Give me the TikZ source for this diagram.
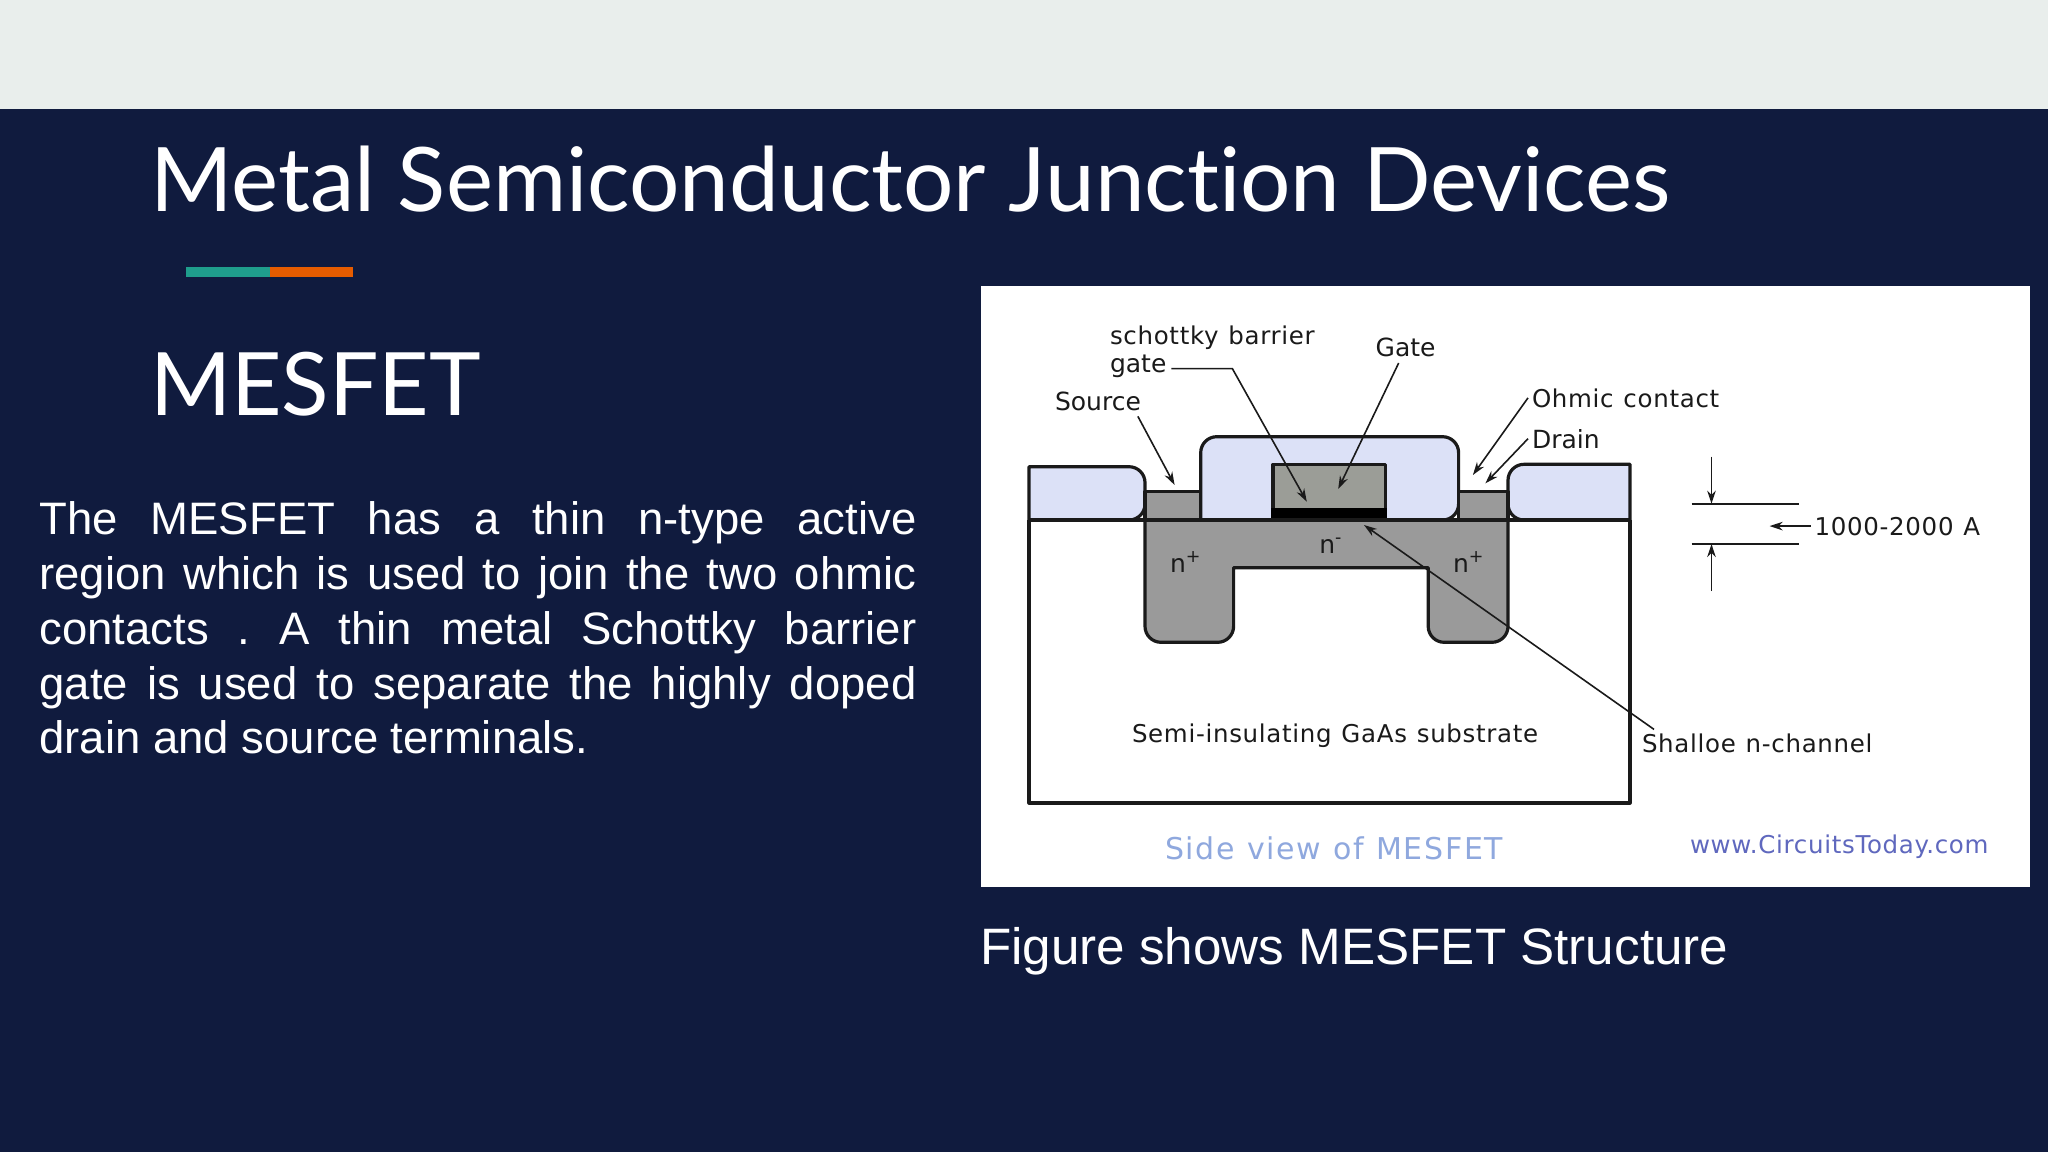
\documentclass[tikz,border=0pt]{standalone}
\usepackage{fontspec}
\setmainfont{Liberation Sans}
\newfontfamily\titlefont[Ligatures=NoCommon]{Lato}
\newfontfamily\labelfont{DejaVu Sans}
\newfontfamily\widefont[LetterSpace=2.8,WordSpace=1.15]{DejaVu Sans}
\newfontfamily\sidefont[LetterSpace=5.5,WordSpace=1.1]{DejaVu Sans}
\usetikzlibrary{arrows.meta}
\definecolor{navy}{HTML}{101B3E}
\definecolor{band}{HTML}{E9EEEC}
\definecolor{tealbar}{HTML}{1F9E8C}
\definecolor{orangebar}{HTML}{E65C00}
\definecolor{oxide}{HTML}{DCE1F7}
\definecolor{semi}{HTML}{9A9A9A}
\definecolor{gategrey}{HTML}{9B9D97}
\definecolor{ink}{HTML}{1A1A1A}
\definecolor{sideblue}{HTML}{8FA8DE}
\definecolor{webblue}{HTML}{5F68BE}
\tikzset{
  x=1pt,y=-1pt,
  txt/.style={inner sep=0pt,outer sep=0pt,anchor=base west},
  slide/.style={txt,text=white},
  lab/.style={txt,text=ink,font=\widefont\fontsize{24.5}{28}\selectfont},
  tightlab/.style={txt,text=ink,font=\labelfont\fontsize{25}{28}\selectfont},
  part/.style={draw=ink,line width=3.2pt,line join=round},
  lead/.style={draw=ink,line width=1.6pt,-{Stealth[length=13pt,width=8.5pt]}},
  plain/.style={draw=ink,line width=1.8pt},
}
\begin{document}
\begin{tikzpicture}
\useasboundingbox (0,0) rectangle (2048,1151.7);
\fill[navy] (0,0) rectangle (2048,1153);
\fill[band] (0,0) rectangle (2048,109);
\fill[tealbar] (186,266.7) rectangle (270,277.3);
\fill[orangebar] (270,266.7) rectangle (353,277.3);
\node[slide,font=\titlefont\fontsize{89}{92}\selectfont] (title) at (150,211.5) {Metal Semiconductor Junction Devices};
\node[slide,font=\titlefont\fontsize{87.5}{92}\selectfont] (head) at (150,415.3) {MESFET};
\node[slide,anchor=north west,text width=877pt,align=justify,font=\fontsize{45.5}{54.7}\selectfont] (body) at (39.5,502)
 {\frenchspacing The MESFET has a thin n-type active\linebreak region which is used to join the two ohmic\linebreak contacts . A thin metal Schottky barrier\linebreak gate is used to separate the highly doped\linebreak drain and source terminals.};
\node[slide,font=\fontsize{51.2}{56}\selectfont] (caption) at (980,964) {Figure shows MESFET Structure};
% picture panel
\fill[white] (981,285.5) rectangle (2029.5,887);
% substrate
\draw[part,fill=white] (1029,520) -- (1029,803) -- (1630,803) -- (1630,520);
% n regions
\draw[part,fill=semi] (1145,520) [rounded corners=16pt] -- (1145,642.3) -- (1233.6,642.3) [sharp corners] -- (1233.6,567.7) -- (1428.2,567.7) [rounded corners=16pt] -- (1428.2,642.3) -- (1508,642.3) [sharp corners] -- (1508,520) -- cycle;
% oxide
\draw[part,fill=oxide] (1029,520) -- (1029,466.7) -- (1100,466.7) [rounded corners=16pt] -- (1145,466.7) -- (1145,520) [sharp corners] -- cycle;
\draw[part,fill=oxide] (1630,520) -- (1630,464.3) -- (1560,464.3) [rounded corners=16pt] -- (1508,464.3) -- (1508,520) [sharp corners] -- cycle;
\draw[part,fill=oxide] (1200.7,520) [rounded corners=16pt] -- (1200.7,436.7) -- (1458.6,436.7) -- (1458.6,520) [sharp corners] -- cycle;
% ohmic contacts
\draw[part,fill=semi] (1145,520) rectangle (1200.7,491.7);
\draw[part,fill=semi] (1458.6,520) rectangle (1508,491.7);
% gate
\draw[part,fill=gategrey] (1272.9,520) rectangle (1385.4,464.3);
\fill[black] (1271.4,507.7) rectangle (1386.9,521.5);
\draw[part] (1029,520) -- (1630,520);
% labels
\node[lab] (schA) at (1110,344.3) {schottky barrier};
\node[tightlab] (schB) at (1110,372.3) {gate};
\node[tightlab] (gatelab) at (1375.7,356.7) {Gate};
\node[tightlab] (source) at (1055,410) {Source};
\node[lab] (ohmic) at (1532,407) {Ohmic contact};
\node[tightlab] (drain) at (1532,448) {Drain};
\node[tightlab] (nleft) at (1170,572) {n\textsuperscript{+}};
\node[tightlab] (nmid) at (1319.3,553) {n\textsuperscript{-}};
\node[tightlab] (nright) at (1453,572) {n\textsuperscript{+}};
\node[lab] (dim) at (1814.6,535) {1000-2000 A};
\node[lab] (subst) at (1132,742) {Semi-insulating GaAs substrate};
\node[lab] (shallow) at (1642,752) {Shalloe n-channel};
\node[txt,text=sideblue,font=\sidefont\fontsize{30}{34}\selectfont] (side) at (1165,859) {Side view of MESFET};
\node[txt,text=webblue,font=\widefont\fontsize{24.5}{28}\selectfont] (web) at (1690,853) {www.CircuitsToday.com};
% arrow targets
\coordinate (sourcetip) at (1174.6,485);
\coordinate (schtip) at (1306.8,501.7);
\coordinate (gatetip) at (1338.2,489);
\coordinate (ohmictip) at (1472.9,475);
\coordinate (draintip) at (1485.4,483.3);
\coordinate (channeltip) at (1364,525);
\coordinate (topA) at (1691.5,503.7);
\coordinate (topB) at (1798.8,503.7);
\coordinate (botA) at (1691.5,544);
\coordinate (botB) at (1798.8,544);
\coordinate (downstart) at (1711.5,456.7);
\coordinate (downtip) at (1711.5,503.7);
\coordinate (upstart) at (1711.5,591);
\coordinate (uptip) at (1711.5,544);
% connectors
\draw[lead] ([shift={(-3,6)}]source.south east) -- (sourcetip);
\draw[lead] ([shift={(5,2.5)}]schB.east) -- ++(61,0) -- (schtip);
\draw[lead] ([shift={(-7,6)}]gatelab.south) -- (gatetip);
\draw[lead] ([xshift=-4pt]ohmic.west) -- (ohmictip);
\draw[lead] ([xshift=-4pt]drain.west) -- (draintip);
\draw[lead] ([shift={(12,-4)}]shallow.north west) -- (channeltip);
\draw[plain] (topA) -- (topB);
\draw[plain] (botA) -- (botB);
\draw[lead] (downstart) -- (downtip);
\draw[lead] (upstart) -- (uptip);
\draw[lead] ([xshift=-4pt]dim.west) -- ++(-41,0);
\end{tikzpicture}
\end{document}
